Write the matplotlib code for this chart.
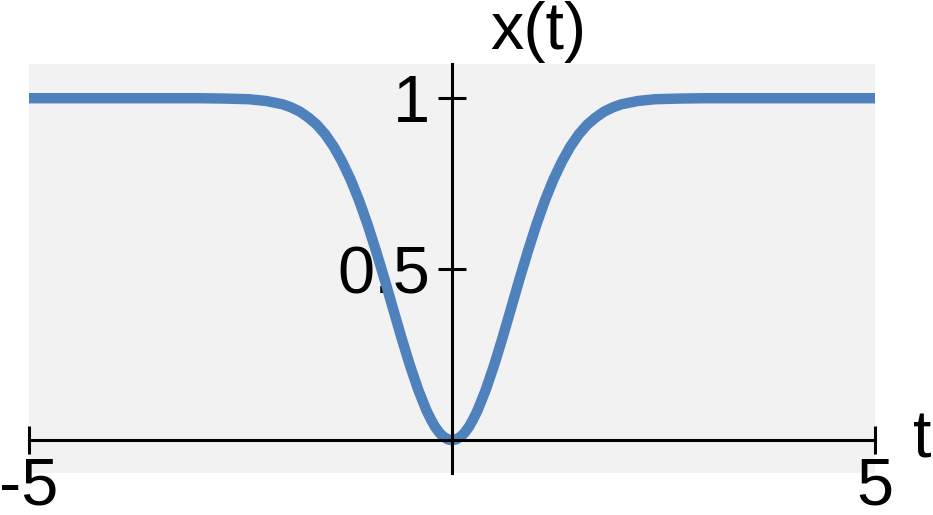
import matplotlib
matplotlib.use('Agg')
import matplotlib.pyplot as plt

plt.rcParams['font.family'] = ['Liberation Sans', 'DejaVu Sans']

# points (t, x)
t_vals = [-5.0, -4.0, -3.0, -2.7, -2.4, -2.2, -2.0, -1.9, -1.8, -1.7, -1.6, -1.5,
          -1.4, -1.3, -1.2, -1.1, -1.0, -0.9, -0.8, -0.7, -0.6, -0.5, -0.4, -0.3,
          -0.25, -0.2, -0.15, -0.1, -0.05, 0.0, 0.05, 0.1, 0.15, 0.2, 0.25,
          0.3, 0.4, 0.5, 0.6, 0.7, 0.8, 0.9, 1.0,
          1.1, 1.2, 1.3, 1.4, 1.5, 1.6, 1.7, 1.8, 1.9, 2.0, 2.2, 2.4, 2.7,
          3.0, 4.0, 5.0]
x_vals = [1.0, 1.0, 1.0, 0.999, 0.997, 0.992, 0.982, 0.973, 0.961, 0.944, 0.923, 0.895,
          0.859, 0.815, 0.763, 0.702, 0.632, 0.555, 0.473, 0.387, 0.302, 0.221, 0.148, 0.086,
          0.061, 0.039, 0.022, 0.010, 0.0025, 0.0, 0.0025, 0.010, 0.022, 0.039, 0.061,
          0.086, 0.148, 0.221, 0.302, 0.387, 0.473, 0.555, 0.632,
          0.702, 0.763, 0.815, 0.859, 0.895, 0.923, 0.944, 0.961, 0.973, 0.982, 0.992, 0.997, 0.999,
          1.0, 1.0, 1.0]

x_ticks = [-5, 5]
x_ticklabels = ['-5', '5']
y_ticks = [0.5, 1]
y_ticklabels = ['0.5', '1']

W, H = 933, 515
fig = plt.figure(figsize=(W / 100, H / 100), dpi=100)
left, right, top, bottom = 29, 875, 64, 472.7
ax = fig.add_axes([left / W, 1 - bottom / H, (right - left) / W, (bottom - top) / H])
ax.set_facecolor('#f2f2f2')

ax.plot(t_vals, x_vals, color='#4f81bd', lw=7.5, solid_capstyle='butt',
        solid_joinstyle='round', zorder=2)

ax.set_xlim(-5, 5)
ax.set_ylim(-0.095, 1.10)

for s in ['top', 'right']:
    ax.spines[s].set_visible(False)
ax.spines['left'].set_position(('data', 0))
ax.spines['bottom'].set_position(('data', 0))
for s in ['left', 'bottom']:
    ax.spines[s].set_linewidth(2.2)
    ax.spines[s].set_zorder(3)

ax.set_xticks(x_ticks)
ax.set_xticklabels(x_ticklabels)
ax.set_yticks(y_ticks)
ax.set_yticklabels(y_ticklabels)
ax.tick_params(axis='x', direction='inout', length=20, width=2.2, pad=2, labelsize=48)
ax.tick_params(axis='y', direction='inout', length=20, width=2.2, pad=6, labelsize=48)

fig.text(490 / W, 1 - 49 / H, 'x(t)', ha='left', va='baseline', fontsize=48)
fig.text(913 / W, 1 - 440 / H, 't', ha='left', va='center', fontsize=48)

fig.savefig('out.png', dpi=100)
